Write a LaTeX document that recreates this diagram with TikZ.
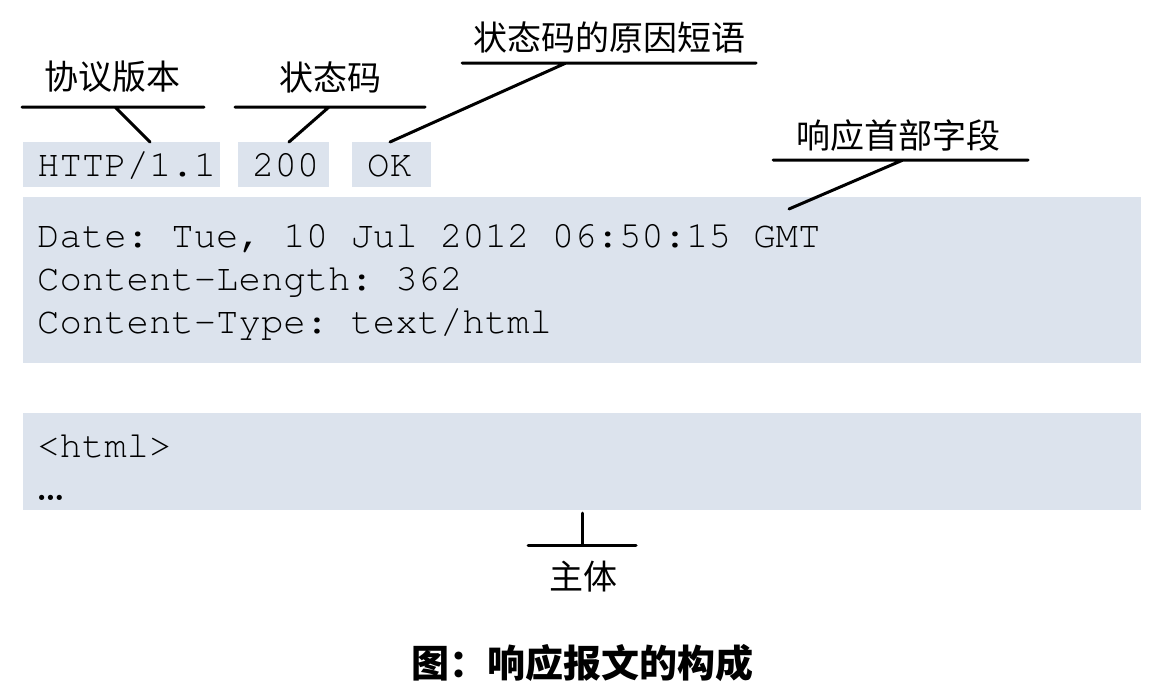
\documentclass[tikz,border=0pt]{standalone}
\usepackage[T1]{fontenc}
\usepackage{fontspec}
\newfontfamily\cjk{Noto Sans CJK SC}
\usetikzlibrary{positioning}
\definecolor{fieldblue}{RGB}{220,227,237}
\frenchspacing

\begin{document}
\begin{tikzpicture}[
    field/.style={rectangle, fill=fieldblue, inner sep=0pt},
    code/.style={font=\fontencoding{T1}\fontfamily{pcr}\fontsize{37.3}{43}\selectfont, inner sep=0pt, anchor=base west},
    lbl/.style={font=\cjk\fontsize{34}{40}\selectfont, inner sep=0pt},
    bar/.style={line width=3pt, line cap=round}]
    \useasboundingbox (0pt,0pt) rectangle (1167pt,-694pt);

    \node[field, minimum height=45pt, minimum width=197pt]
        (ver) at (121.5pt,-164.5pt) {};
    \node[field, minimum height=45pt, minimum width=91pt]
        (status) at (283.5pt,-164.5pt) {};
    \node[field, minimum height=45pt, minimum width=79pt]
        (reason) at (391.5pt,-164.5pt) {};
    \node[field, minimum height=166pt, minimum width=1118pt]
        (header) at (582pt,-280pt) {};
    \node[field, minimum height=97pt, minimum width=1118pt]
        (body) at (582pt,-461.5pt) {};

    \node[code] (vertext) at (37pt,-176pt) {HTTP/1.1};
    \node[code] (statustext) at (252pt,-176pt) {200};
    \node[code] (reasontext) at (367pt,-176pt) {OK};
    \node[code] (date) at (37pt,-247pt) {Date: Tue, 10 Jul 2012 06:50:15 GMT};
    \node[code] (length) at (37pt,-290pt) {Content-Length: 362};
    \node[code] (type) at (37pt,-333pt) {Content-Type: text/html};
    \node[code] (html) at (37pt,-457pt) {<html>};
    \node[font=\bfseries\fontsize{36}{40}\selectfont, inner sep=0pt, anchor=base west]
        (more) at (36pt,-500pt) {…};

    \node[lbl] (verlbl) at (112.5pt,-77pt) {协议版本};
    \node[lbl] (statuslbl) at (330pt,-77pt) {状态码};
    \node[lbl] (reasonlbl) at (609pt,-38pt) {状态码的原因短语};
    \node[lbl] (headerlbl) at (898pt,-136pt) {响应首部字段};
    \node[lbl] (bodylbl) at (583pt,-577pt) {主体};
    \node[font=\cjk\bfseries\fontsize{38}{44}\selectfont, inner sep=0pt]
        (caption) at (582pt,-663pt) {图：响应报文的构成};

    \coordinate (verl) at (22pt,-107pt);
    \coordinate (verr) at (204pt,-107pt);
    \coordinate (verm) at (115pt,-107pt);
    \coordinate (vertip) at (150pt,-142pt);
    \coordinate (statusl) at (235pt,-107pt);
    \coordinate (statusr) at (425pt,-107pt);
    \coordinate (statusm) at (329pt,-107pt);
    \coordinate (statustip) at (289pt,-142pt);
    \coordinate (reasonl) at (462pt,-63pt);
    \coordinate (reasonr) at (756pt,-63pt);
    \coordinate (reasonm) at (566pt,-63pt);
    \coordinate (reasontip) at (390pt,-142pt);
    \coordinate (headerl) at (773pt,-160pt);
    \coordinate (headerr) at (1028pt,-160pt);
    \coordinate (headerm) at (903pt,-160pt);
    \coordinate (headertip) at (789pt,-209pt);
    \coordinate (bodyl) at (528pt,-545pt);
    \coordinate (bodyr) at (636pt,-545pt);
    \coordinate (bodym) at (582pt,-545pt);
    \coordinate (bodytip) at (582pt,-513pt);

    \draw[bar] (verl) -- (verr) (verm) -- (vertip);
    \draw[bar] (statusl) -- (statusr) (statusm) -- (statustip);
    \draw[bar] (reasonl) -- (reasonr) (reasonm) -- (reasontip);
    \draw[bar] (headerl) -- (headerr) (headerm) -- (headertip);
    \draw[bar] (bodyl) -- (bodyr) (bodym) -- (bodytip);
\end{tikzpicture}
\end{document}
